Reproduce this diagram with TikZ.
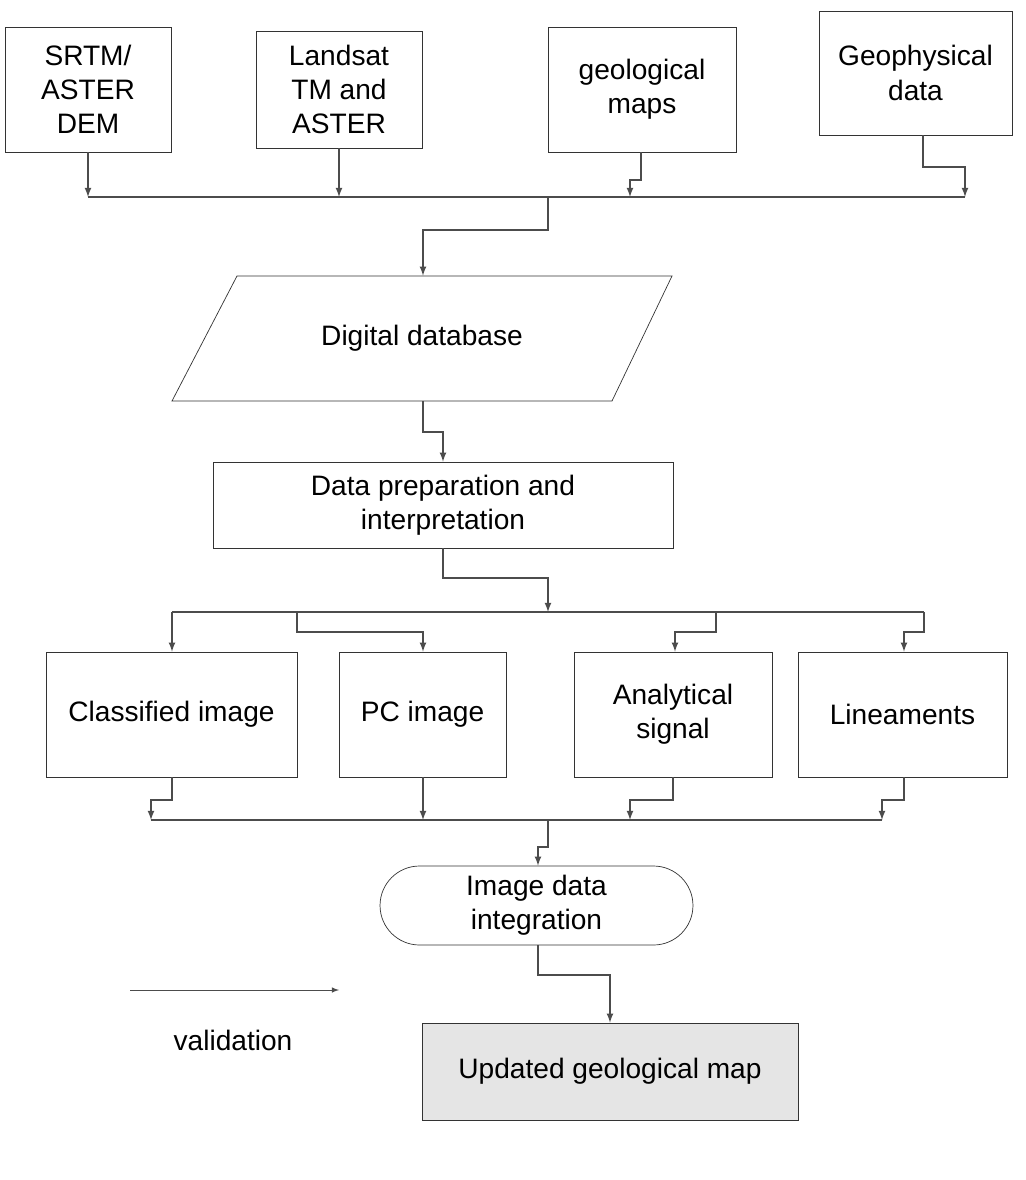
\documentclass[tikz,border=0pt]{standalone}
\usepackage{fontspec}
\setmainfont{Liberation Sans}
\usetikzlibrary{shapes,arrows,positioning,calc}
\begin{document}
\begin{tikzpicture}[x=0.02cm,y=-0.02cm,
    box/.style={rectangle, draw=black!80, thin, align=center, font=\fontsize{16}{19.5}\selectfont, inner sep=0pt},
    line/.style={draw=black!70, thick},
    arrow/.style={->, draw=black!70, thick, >=latex}
]
\useasboundingbox (0,0) rectangle (1025,1180);

% sources
\node[box, minimum width=3.32cm, minimum height=2.5cm] (srtm) at (88,89.5) {SRTM/\\ASTER\\DEM};
\node[box, minimum width=3.32cm, minimum height=2.34cm] (landsat) at (339,89.5) {Landsat\\TM and\\ASTER};
\node[box, minimum width=3.76cm, minimum height=2.5cm] (geomap) at (642,89.5) {geological\\maps};
\node[box, minimum width=3.86cm, minimum height=2.48cm] (geophys) at (915.5,73) {Geophysical\\data};

\coordinate (busA) at (88,197);
\coordinate (busB) at (965,197);
\draw[line] (busA) -- (busB);
\draw[arrow] (srtm.south) -- (srtm.south |- busA);
\draw[arrow] (landsat.south) -- (landsat.south |- busA);
\draw[arrow] (geomap.south -| 641,0) |- (630,180) -- (630,197);
\draw[arrow] (geophys.south -| 923,0) |- (965,167) -- (busB);

% digital database
\node[box, draw=none, minimum width=7.5cm, minimum height=2.5cm] (dbase) at (422,338.5) {Digital database};
\draw[black!80, thin] (237,276) -- (672,276) -- (612,401) -- (172,401) -- cycle;
\draw[arrow] (548,197) |- (423,230) -- (dbase.north -| 423,0);

% preparation
\node[box, minimum width=9.2cm, minimum height=1.72cm] (prep) at (443,505) {Data preparation and\\interpretation};
\draw[arrow] (dbase.south -| 423,0) |- (443,432) -- (prep.north);

% products
\coordinate (splitA) at (172,612);
\coordinate (splitB) at (924,612);
\draw[line] (splitA) -- (splitB);
\draw[arrow] (prep.south) |- (548,578) -- (548,612);

\node[box, minimum width=5.02cm, minimum height=2.5cm] (class) at (171.5,714.5) {Classified image};
\node[box, minimum width=3.34cm, minimum height=2.5cm] (pc) at (422.5,714.5) {PC image};
\node[box, minimum width=3.96cm, minimum height=2.5cm] (anal) at (673,714.5) {Analytical\\signal};
\node[box, minimum width=4.18cm, minimum height=2.5cm] (linea) at (902.5,714.5) {Lineaments};

\draw[arrow] (splitA) -- (class.north -| splitA);
\draw[arrow] (297,612) |- (423,632) -- (pc.north -| 423,0);
\draw[arrow] (716,612) |- (675,632) -- (anal.north -| 675,0);
\draw[arrow] (splitB) |- (904,632) -- (linea.north -| 904,0);

% integration
\coordinate (joinA) at (151,820);
\coordinate (joinB) at (882,820);
\draw[line] (joinA) -- (joinB);
\draw[arrow] (class.south -| 172,0) |- (151,800) -- (joinA);
\draw[arrow] (pc.south -| 423,0) -- (423,820);
\draw[arrow] (anal.south -| 673,0) |- (630,800) -- (630,820);
\draw[arrow] (linea.south -| 904,0) |- (882,800) -- (joinB);

\node[box, rounded corners=0.79cm, minimum width=6.26cm, minimum height=1.58cm] (integ) at (536.5,905.5) {Image data\\integration};
\draw[arrow] (548,820) |- (538,847) -- (integ.north -| 538,0);

\node[box, fill=black!10, minimum width=7.52cm, minimum height=1.94cm] (update) at (610,1071.5) {Updated geological map};
\draw[arrow] (integ.south -| 538,0) |- (610,975) -- (update.north);

% legend
\coordinate (legA) at (130,990);
\coordinate (legB) at (339,990);
\draw[arrow, thin] (legA) -- (legB);
\node[font=\fontsize{16}{19.5}\selectfont] (valid) at (233,1040) {validation};
\end{tikzpicture}
\end{document}
